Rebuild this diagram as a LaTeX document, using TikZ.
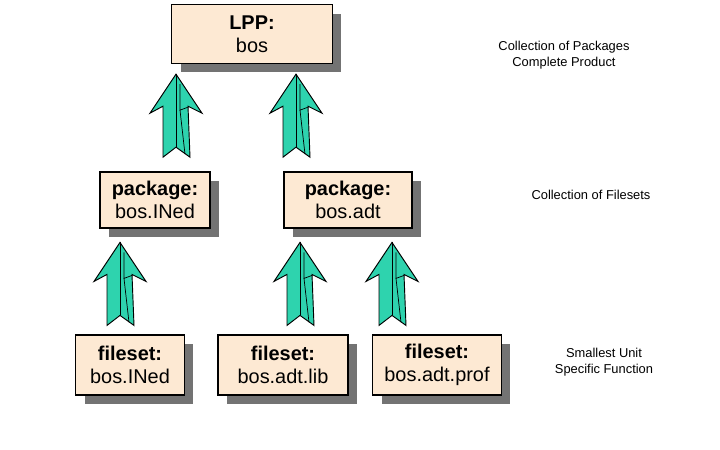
\documentclass[tikz,border=0pt]{standalone}
\usepackage{fontspec}
\setmainfont{Liberation Sans}
\usetikzlibrary{calc,shadows}
\definecolor{boxfill}{HTML}{FDE9D3}
\definecolor{arrowfill}{HTML}{2ED3AE}
\tikzset{
  unit/.style={draw, line width=1.2pt, fill=boxfill, minimum height=50, align=center,
    font=\fontsize{17}{20}\selectfont, inner sep=2pt,
    drop shadow={shadow xshift=9, shadow yshift=-9, fill=black!55, opacity=1}},
  side/.style={align=center, font=\fontsize{11}{14}\selectfont},
  pics/uparrow/.style={code={
    \draw[fill=arrowfill, line width=0.8pt] (0,0) -- (-26,-39) -- (-13,-32) -- (-13,-83)
      -- (0,-73) -- (14,-83) -- (12,-32) -- (26,-39) -- cycle;
    \draw[line width=0.8pt] (0,0) -- (0,-73);
    \draw[line width=0.6pt] (4,-10) -- (4,-36) -- (12,-33);
    \draw[line width=0.6pt] (4,-36) -- (9,-80);
  }}
}
\begin{document}
\begin{tikzpicture}[x=0.03cm, y=0.03cm]
  \useasboundingbox (0,0) rectangle (720,-450);

  % boxes
  \node[unit, minimum width=137] (lpp) at (252,-34) {\textbf{LPP:}\\bos};
  \node[unit, minimum width=94, minimum height=48] (pkgined) at (155,-200) {\textbf{package:}\\bos.INed};
  \node[unit, minimum width=109, minimum height=48] (pkgadt) at (348,-200) {\textbf{package:}\\bos.adt};
  \node[unit, minimum width=93, minimum height=51] (fsined) at (130,-365) {\textbf{fileset:}\\bos.INed};
  \node[unit, minimum width=111, minimum height=51] (fslib) at (283,-365) {\textbf{fileset:}\\bos.adt.lib};
  \node[unit, minimum width=110, minimum height=51] (fsprof) at (437,-365) {\textbf{fileset:}\\bos.adt.prof};

  % arrows
  \pic at ($(pkgined.north)+(21,97)$) {uparrow};
  \pic at ($(pkgadt.north)+(-52,97)$) {uparrow};
  \pic at ($(fsined.north)+(-10,92)$) {uparrow};
  \pic at ($(fslib.north)+(17,92)$) {uparrow};
  \pic at ($(fsprof.north)+(-45,92)$) {uparrow};

  % levels
  \node[side] (lvltop) at (564,-55) {Collection of Packages\\Complete Product};
  \node[side] (lvlmid) at (591,-195) {Collection of Filesets};
  \node[side] (lvlbot) at (604,-362) {Smallest Unit\\Specific Function};
\end{tikzpicture}
\end{document}
